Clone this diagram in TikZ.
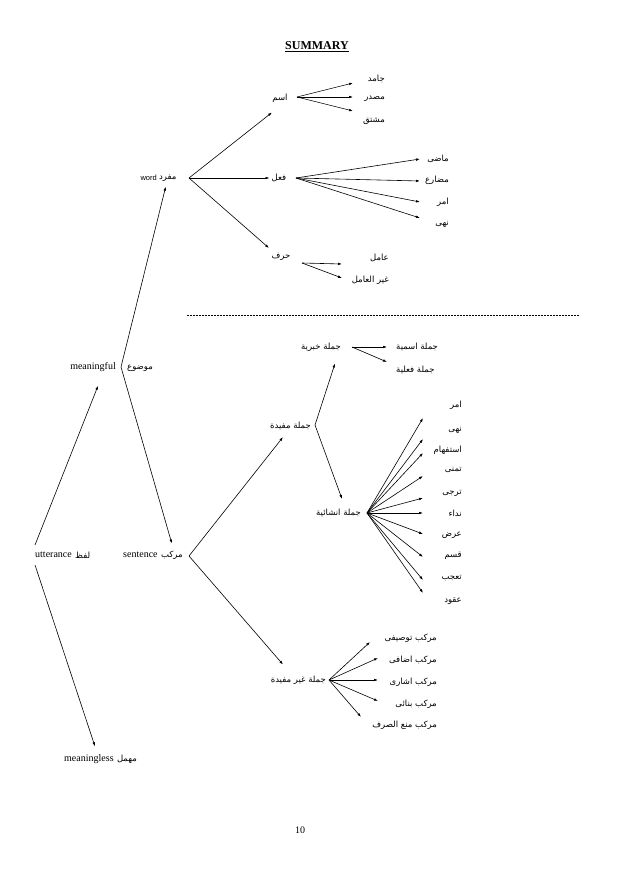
\documentclass[tikz,border=0pt]{standalone}
\usepackage{fontspec}
\setmainfont{Liberation Serif}
\newfontfamily\latsans{Liberation Sans}
\newfontfamily\arabicfont[Script=Arabic]{DejaVu Sans}
\TeXXeTstate=1
\usetikzlibrary{arrows.meta,calc,positioning}
\newcommand{\artxt}[1]{{\arabicfont\fontsize{8.5}{10}\selectfont\beginR #1\endR}}

\begin{document}
\begin{tikzpicture}[x=1pt, y=-1pt,
	en/.style={inner sep=1pt, font=\fontsize{10}{12}\selectfont},
	ensf/.style={inner sep=1pt, font=\latsans\fontsize{7.5}{9}\selectfont},
	ar/.style={inner sep=1pt},
	pfeil/.style={-{Latex[length=4pt,width=2.6pt]}, line width=0.6pt}]
	\useasboundingbox (0,0) rectangle (638,878);

	% Titel
	\node[font=\bfseries\fontsize{12}{14}\selectfont] (title) at (317,47) {\underline{SUMMARY}};

	% Wort
	\node[ensf, anchor=east] (word) at (158,178) {word};
	\node[ar, right=0pt of word] (mufrad) {\artxt{مفرد}};
	\coordinate (mufradJ) at (189,178);

	% Ism
	\node[ar] (ism) at (280,98) {\artxt{اسم}};
	\coordinate (ismJ) at (297,97);
	\coordinate (ismTip) at (353,97);
	\draw[pfeil] (mufradJ) -- ($(ism.south)+(-8,9)$);
	\foreach \nm/\txt/\yy/\dd in {jamid/جامد/79/4, masdar/مصدر/99/-2, mushtaq/مشتق/121/-10}{
		\node[ar, anchor=east] (\nm) at (386,\yy) {\artxt{\txt}};
		\draw[pfeil] (ismJ) -- ($(\nm.west -| ismTip)+(0,\dd)$);
	}

	% Fil
	\node[ar] (fil) at (279,178) {\artxt{فعل}};
	\coordinate (filJ) at (296,178);
	\coordinate (filTip) at (420,178);
	\draw[pfeil, shorten >=1pt] (mufradJ) -- (fil.west);
	\foreach \nm/\txt/\yy/\dd in {madi/ماضى/159/0, mudari/مضارع/180/1, amr/امر/202/0, nahy/نهى/224/-6}{
		\node[ar, anchor=east] (\nm) at (450,\yy) {\artxt{\txt}};
		\draw[pfeil] (filJ) -- ($(\nm.west -| filTip)+(0,\dd)$);
	}

	% Harf
	\node[ar] (harf) at (281,257) {\artxt{حرف}};
	\coordinate (harfJ) at (302,263);
	\coordinate (harfTip) at (342,263);
	\draw[pfeil] (mufradJ) -- ($(harf.north)+(-12,-4)$);
	\foreach \nm/\txt/\yy/\dd in {amil/عامل/258/6, ghayramil/غير العامل/280/-2}{
		\node[ar, anchor=east] (\nm) at (390,\yy) {\artxt{\txt}};
		\draw[pfeil] (harfJ) -- ($(\nm.west -| harfTip)+(0,\dd)$);
	}

	% Trennlinie
	\draw[line width=0.6pt, dash pattern=on 2pt off 1pt] (187,315) -- (579,315);

	% meaningful
	\node[en, anchor=east] (meaningful) at (117,367) {meaningful};
	\node[ar, anchor=west] (mawdu) at (126,368) {\artxt{موضوع}};
	\coordinate (mawduJ) at (121,367);

	% utterance
	\node[en, anchor=west] (utterance) at (34,555) {utterance};
	\node[ar, right=1pt of utterance] (lafz) {\artxt{لفظ}};

	% sentence
	\node[en, anchor=west] (sentence) at (122,555) {sentence};
	\node[ar, right=1pt of sentence] (murakkab) {\artxt{مركب}};
	\coordinate (murakkabJ) at (189,556);

	% meaningless
	\node[en, anchor=west] (meaningless) at (63,759) {meaningless};
	\node[ar, right=1pt of meaningless] (muhmal) {\artxt{مهمل}};

	\draw[pfeil] ($(utterance.west)+(1,-10)$) -- ($(meaningful.south)+(5,13)$);
	\draw[pfeil] ($(utterance.west)+(1,10)$) -- ($(meaningless.north)+(6,-7)$);
	\draw[pfeil] (mawduJ) -- ($(mufrad.south east)+(-12,4)$);
	\draw[pfeil] (mawduJ) -- ($(murakkab.north west)+(12,-6)$);

	% Jumla mufida
	\node[ar, anchor=east] (mufida) at (312,426) {\artxt{جملة مفيدة}};
	\coordinate (mufidaJ) at (315,425);
	\node[ar, anchor=east] (khabariya) at (342,347) {\artxt{جملة خبرية}};
	\node[ar, anchor=east] (inshaiya) at (362,513) {\artxt{جملة انشائية}};
	\draw[pfeil] (murakkabJ) -- ($(mufida.south east)+(-29,6)$);
	\draw[pfeil] (mufidaJ) -- ($(khabariya.south east)+(-7,11)$);
	\draw[pfeil] (mufidaJ) -- ($(inshaiya.north east)+(-20,-9)$);

	% Khabariya
	\coordinate (khabariyaJ) at (352,347);
	\coordinate (khTip) at (387,347);
	\foreach \nm/\txt/\yy/\dd in {ismiya/جملة اسمية/347/0, filiya/جملة فعلية/370/-8}{
		\node[ar, anchor=west] (\nm) at (395,\yy) {\artxt{\txt}};
		\draw[pfeil] (khabariyaJ) -- ($(\nm.west -| khTip)+(0,\dd)$);
	}

	% Inshaiya
	\coordinate (inshaiyaJ) at (367,513);
	\coordinate (inTip) at (423,513);
	\foreach \nm/\txt/\yy/\dd in {amrb/امر/405/13, nahyb/نهى/430/9, istifham/استفهام/450/3,
		tamanni/تمنى/470/6, tarajji/ترجى/493/5, nida/نداء/513/0, ard/عرض/535/-1,
		qasam/قسم/556/1, taajjub/تعجب/578/2, uqud/عقود/601/-8}{
		\node[ar, anchor=east] (\nm) at (463,\yy) {\artxt{\txt}};
		\draw[pfeil] (inshaiyaJ) -- ($(\nm.west -| inTip)+(0,\dd)$);
	}

	% Jumla ghayr mufida
	\node[ar, anchor=east] (ghayr) at (327,680) {\artxt{جملة غير مفيدة}};
	\coordinate (ghayrJ) at (329,680);
	\coordinate (ghTip) at (378,680);
	\draw[pfeil] (murakkabJ) -- ($(ghayr.north east)+(-44,-10)$);
	\foreach \nm/\txt/\yy/\dx/\dd in {tawsifi/مركب توصيفى/638/-8/4, idafi/مركب اضافى/660/0/-2,
		ishari/مركب اشارى/682/0/-2, binai/مركب بنائى/704/0/-3, mana/مركب منع الصرف/725/-17/-8}{
		\node[ar, anchor=east] (\nm) at (438,\yy) {\artxt{\txt}};
		\draw[pfeil] (ghayrJ) -- ($(\nm.west -| ghTip)+(\dx,\dd)$);
	}

	% Seitenzahl
	\node[en] (pagenum) at (300,830) {10};
\end{tikzpicture}
\end{document}
